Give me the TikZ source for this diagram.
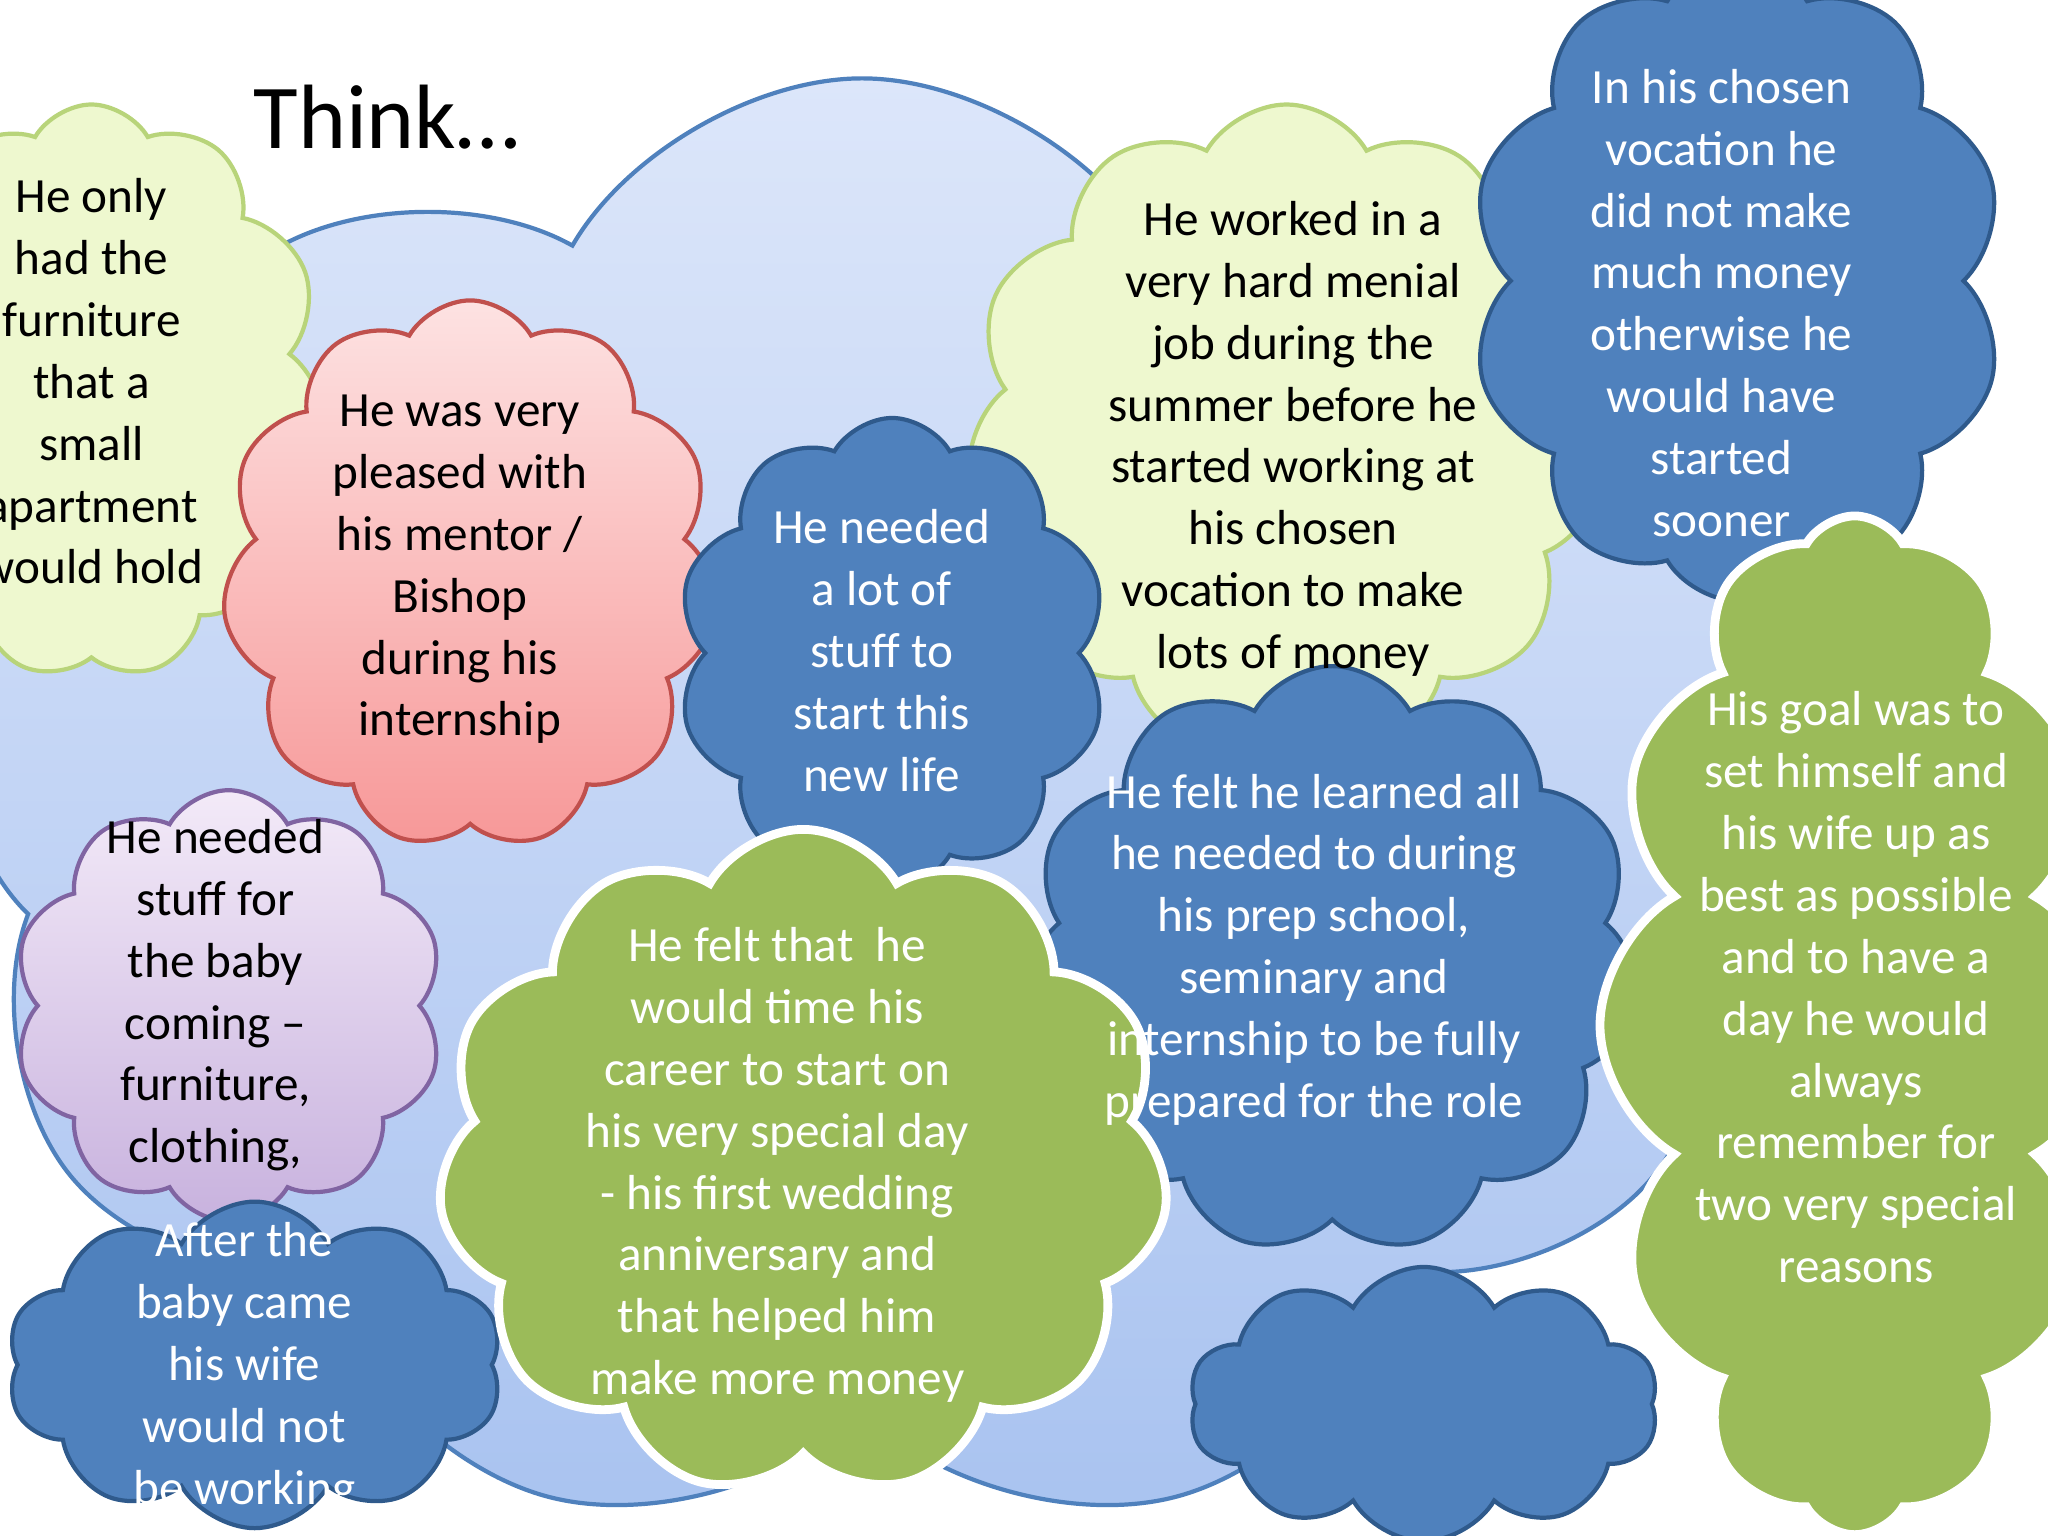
\documentclass[tikz,border=0pt]{standalone}
\usepackage{fontspec}
\setmainfont{Carlito}
\usetikzlibrary{shapes.symbols}
\definecolor{bgb}{HTML}{DCE6FA}
\definecolor{bgb2}{HTML}{A9C3F0}
\definecolor{lg}{HTML}{EEF8CF}
\definecolor{lgb}{HTML}{B8D47A}
\definecolor{pk1}{HTML}{FDE2E2}
\definecolor{pk2}{HTML}{F79898}
\definecolor{pkb}{HTML}{C0504D}
\definecolor{db}{HTML}{4F81BD}
\definecolor{dbb}{HTML}{2F5A8C}
\definecolor{pu1}{HTML}{F3EAF8}
\definecolor{pu2}{HTML}{C8B2DE}
\definecolor{pub}{HTML}{8064A2}
\definecolor{gr}{HTML}{9BBB59}
\tikzset{
 cl/.style={cloud, cloud puffs=11, cloud puff arc=120, line width=1.2pt, inner sep=0pt},
 bgcloud/.style={cl, draw=db, top color=bgb, bottom color=bgb2},
 lgcloud/.style={cl, draw=lgb, fill=lg},
 pkcloud/.style={cl, draw=pkb, top color=pk1, bottom color=pk2},
 dbcloud/.style={cl, draw=dbb, fill=db},
 pucloud/.style={cl, draw=pub, top color=pu1, bottom color=pu2},
 grcloud/.style={cl, draw=white, line width=2.5pt, fill=gr},
 txt/.style={align=center, font=\fontsize{14}{17.6}\selectfont},
 wtxt/.style={txt, text=white},
 sz/.style 2 args={minimum width=#1*0.01306cm, minimum height=#2*0.01306cm},
}
\begin{document}
\begin{tikzpicture}[x=0.01306cm,y=-0.01306cm]
\useasboundingbox (0,0) rectangle (1568,1176);
\clip (0,0) rectangle (1568,1176);
\fill[white] (0,0) rectangle (1568,1176);
\node[bgcloud, sz={1400}{1120}, cloud puffs=9] (bg) at (660,620) {};
\node[lgcloud, sz={360}{440}] (c1) at (70,300) {};
\node[pkcloud, sz={380}{420}] (c2) at (360,440) {};
\node[lgcloud, sz={490}{500}] (c5) at (985,330) {};
\node[dbcloud, sz={410}{490}, cloud puffs=10] (c6) at (1330,215) {};
\node[dbcloud, sz={330}{360}, cloud puffs=10] (c4) at (683,500) {};
\node[pucloud, sz={330}{330}, cloud puffs=10] (c7) at (175,770) {};
\node[dbcloud, sz={380}{250}, cloud puffs=10] (c8) at (195,1045) {};
\node[dbcloud, sz={470}{450}] (c10) at (1020,735) {};
\node[dbcloud, sz={360}{210}, cloud puffs=10] (c11) at (1090,1075) {};
\node[grcloud, sz={560}{510}] (c9) at (615,890) {};
\node[grcloud, sz={390}{780}, cloud puffs=12] (c12) at (1420,785) {};

\node[txt] at (70,292) {He only\\had the\\furniture\\that a\\small\\apartment\\would hold};
\node[txt] at (352,436) {He was very\\pleased with\\his mentor /\\Bishop\\during his\\internship};
\node[wtxt] at (675,498) {He needed\\a lot of\\stuff to\\start this\\new life};
\node[txt] at (990,336) {He worked in a\\very hard menial\\job during the\\summer before he\\started working at\\his chosen\\vocation to make\\lots of money};
\node[wtxt] at (1318,232) {In his chosen\\vocation he\\did not make\\much money\\otherwise he\\would have\\started\\sooner};
\node[txt] at (165,762) {He needed\\stuff for\\the baby\\coming --\\furniture,\\clothing,};
\node[wtxt] at (187,1047) {After the\\baby came\\his wife\\would not\\be working};
\node[wtxt] at (1006,727) {He felt he learned all\\he needed to during\\his prep school,\\seminary and\\internship to be fully\\prepared for the role};
\node[wtxt] at (595,892) {He felt that\ \ he\\would time his\\career to start on\\his very special day\\- his first wedding\\anniversary and\\that helped him\\make more money};
\node[wtxt] at (1421,756) {His goal was to\\set himself and\\his wife up as\\best as possible\\and to have a\\day he would\\always\\remember for\\two very special\\reasons};
\node[font=\fontsize{26}{30}\selectfont] (title) at (296,90) {Think…};
\end{tikzpicture}
\end{document}
